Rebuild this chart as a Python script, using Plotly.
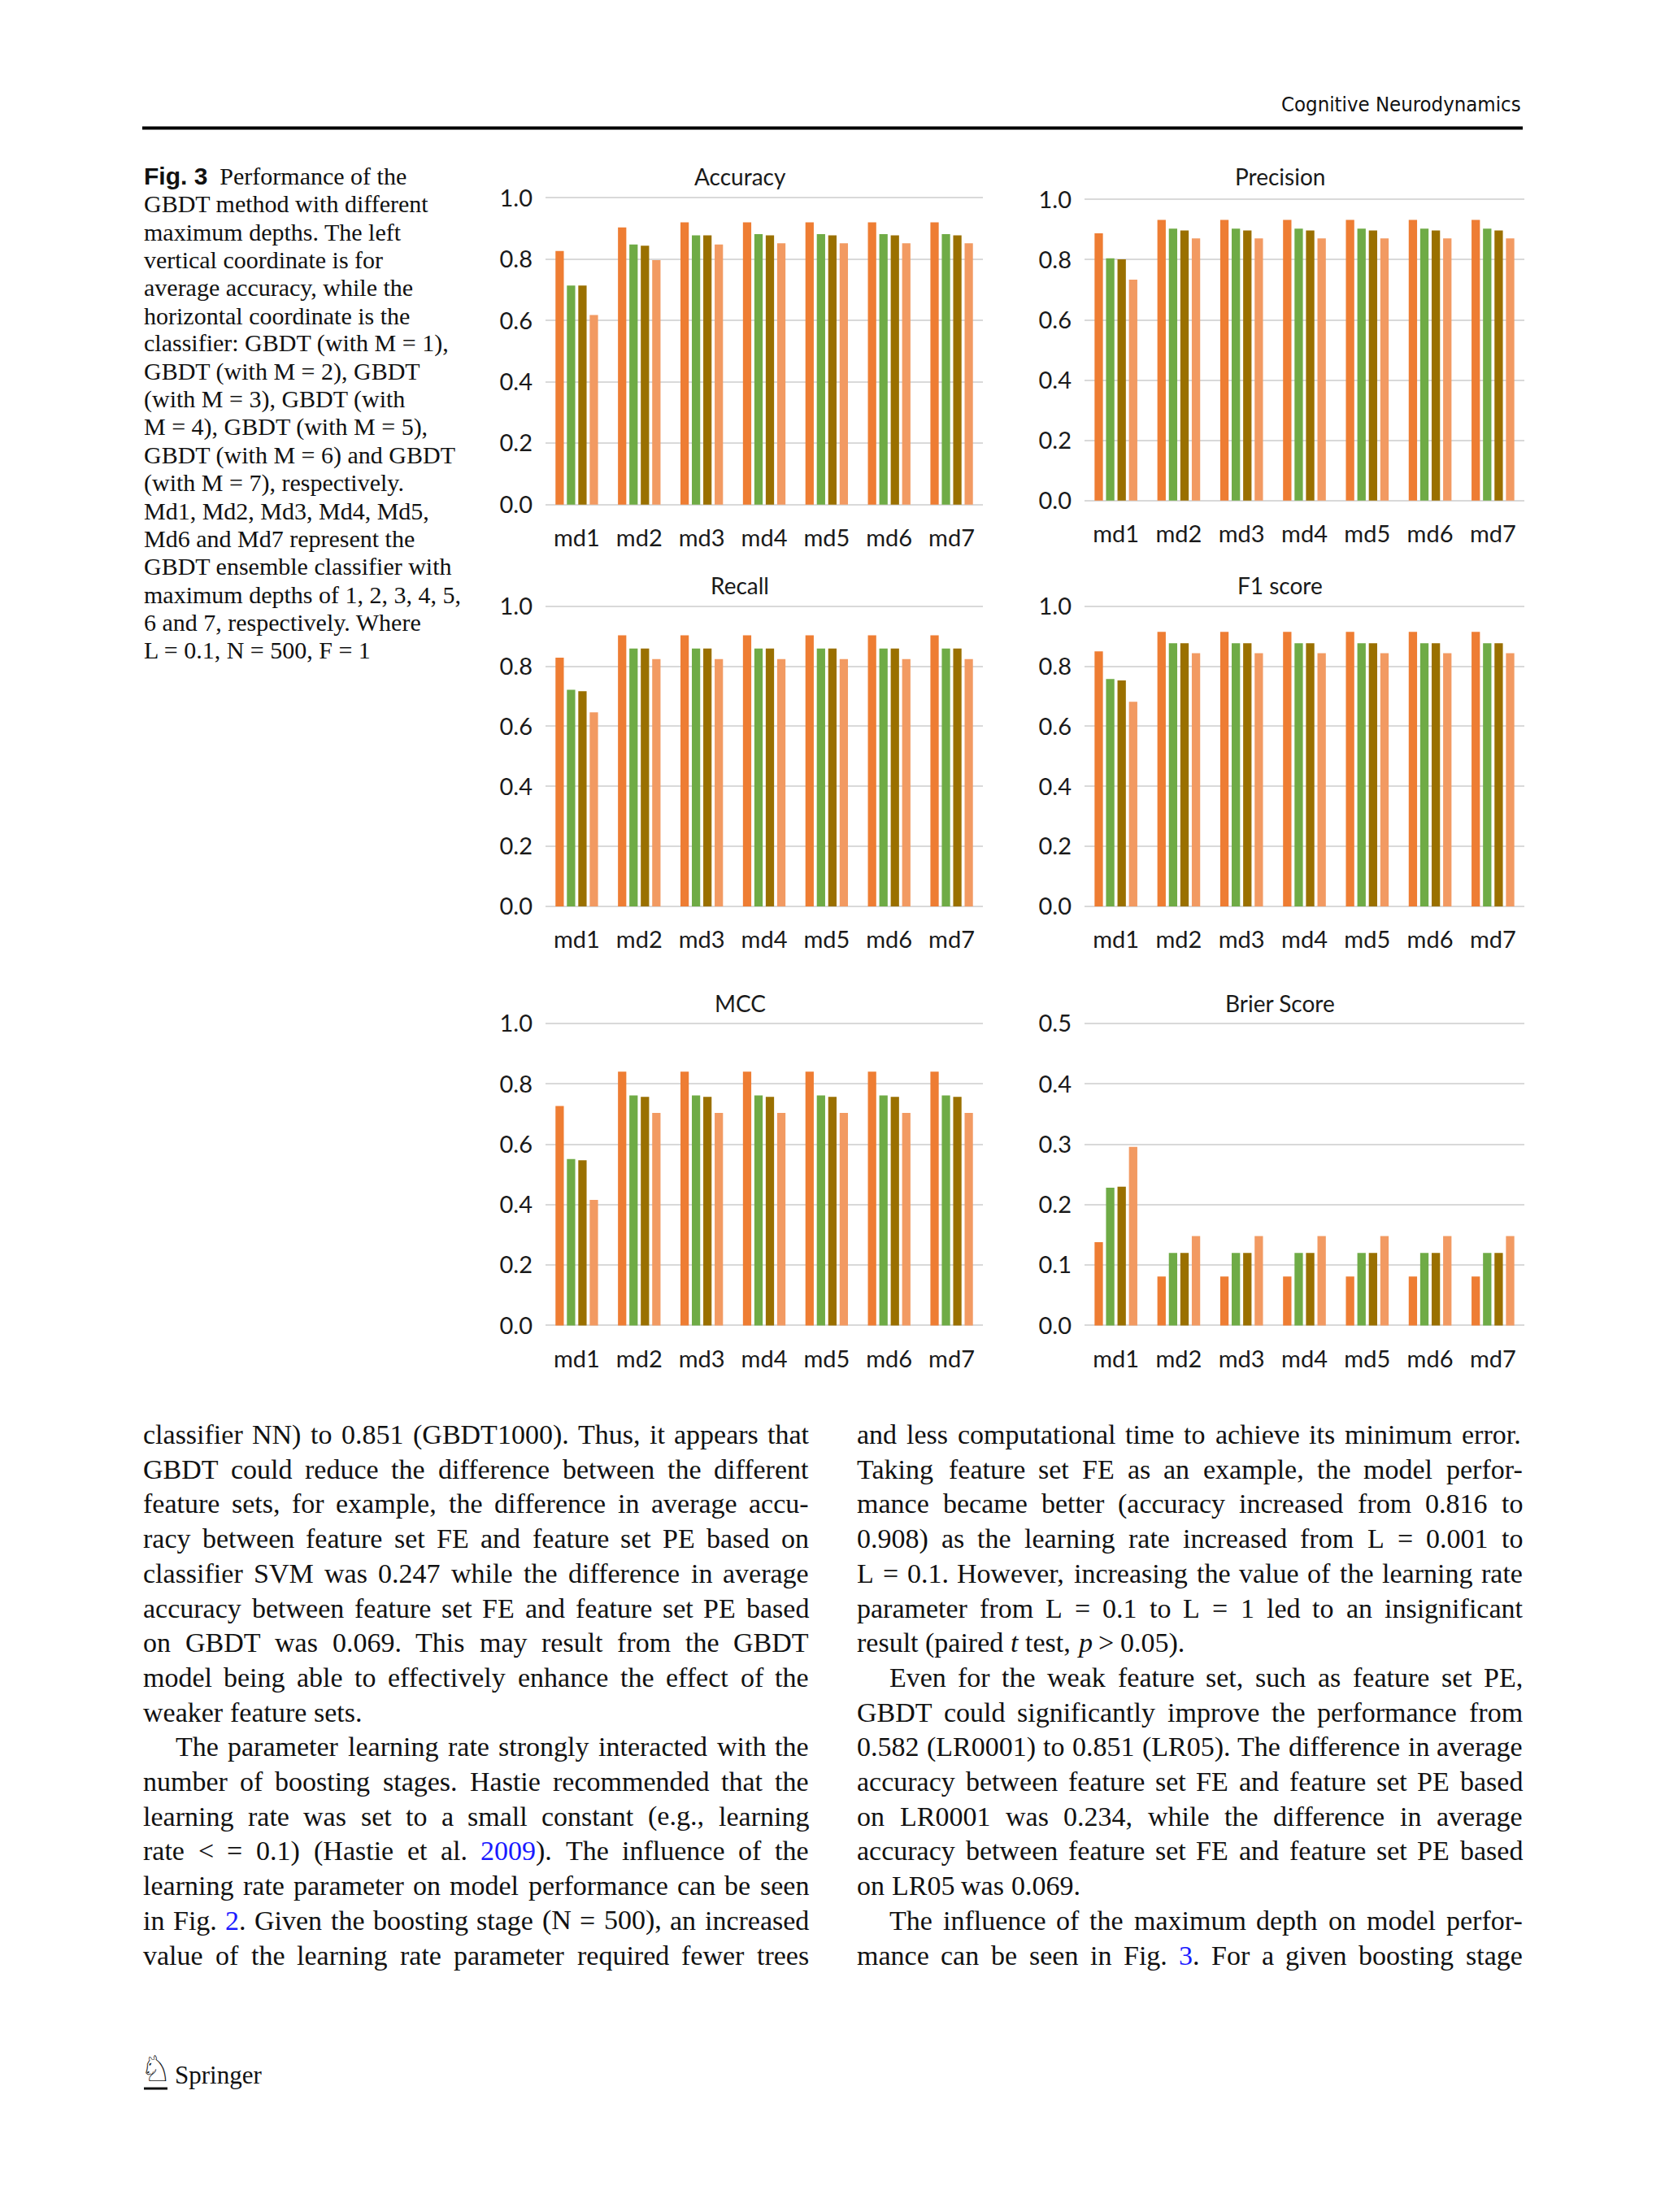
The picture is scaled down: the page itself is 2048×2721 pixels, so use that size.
import re
import plotly.graph_objects as go

# ---------------- data ----------------
categories = ["md1", "md2", "md3", "md4", "md5", "md6", "md7"]
series_names = ["Series 1", "Series 2", "Series 3", "Series 4"]
series_colors = ["#EE7D33", "#6FAB46", "#9A7000", "#F29A62"]

accuracy_s1 = [0.827, 0.904, 0.920, 0.920, 0.920, 0.920, 0.920]
accuracy_s2 = [0.714, 0.848, 0.878, 0.882, 0.882, 0.882, 0.882]
accuracy_s3 = [0.714, 0.844, 0.878, 0.878, 0.878, 0.878, 0.878]
accuracy_s4 = [0.618, 0.797, 0.848, 0.852, 0.852, 0.852, 0.852]

precision_s1 = [0.888, 0.932, 0.932, 0.932, 0.932, 0.932, 0.932]
precision_s2 = [0.805, 0.903, 0.903, 0.903, 0.903, 0.903, 0.903]
precision_s3 = [0.801, 0.897, 0.897, 0.897, 0.897, 0.897, 0.897]
precision_s4 = [0.734, 0.871, 0.871, 0.871, 0.871, 0.871, 0.871]

recall_s1 = [0.829, 0.903, 0.903, 0.903, 0.903, 0.903, 0.903]
recall_s2 = [0.722, 0.859, 0.859, 0.859, 0.859, 0.859, 0.859]
recall_s3 = [0.717, 0.859, 0.859, 0.859, 0.859, 0.859, 0.859]
recall_s4 = [0.647, 0.824, 0.824, 0.824, 0.824, 0.824, 0.824]

f1_s1 = [0.850, 0.915, 0.915, 0.915, 0.915, 0.915, 0.915]
f1_s2 = [0.758, 0.877, 0.877, 0.877, 0.877, 0.877, 0.877]
f1_s3 = [0.753, 0.877, 0.877, 0.877, 0.877, 0.877, 0.877]
f1_s4 = [0.682, 0.844, 0.844, 0.844, 0.844, 0.844, 0.844]

mcc_s1 = [0.727, 0.841, 0.841, 0.841, 0.841, 0.841, 0.841]
mcc_s2 = [0.551, 0.762, 0.762, 0.762, 0.762, 0.762, 0.762]
mcc_s3 = [0.547, 0.757, 0.757, 0.757, 0.757, 0.757, 0.757]
mcc_s4 = [0.416, 0.704, 0.704, 0.704, 0.704, 0.704, 0.704]

brier_s1 = [0.138, 0.081, 0.081, 0.081, 0.081, 0.081, 0.081]
brier_s2 = [0.228, 0.120, 0.120, 0.120, 0.120, 0.120, 0.120]
brier_s3 = [0.230, 0.120, 0.120, 0.120, 0.120, 0.120, 0.120]
brier_s4 = [0.296, 0.148, 0.148, 0.148, 0.148, 0.148, 0.148]

panel_titles = ["Accuracy", "Precision", "Recall", "F1 score", "MCC", "Brier Score"]
panel_series = [
    [accuracy_s1, accuracy_s2, accuracy_s3, accuracy_s4],
    [precision_s1, precision_s2, precision_s3, precision_s4],
    [recall_s1, recall_s2, recall_s3, recall_s4],
    [f1_s1, f1_s2, f1_s3, f1_s4],
    [mcc_s1, mcc_s2, mcc_s3, mcc_s4],
    [brier_s1, brier_s2, brier_s3, brier_s4],
]
panel_ymax = [1.0, 1.0, 1.0, 1.0, 1.0, 0.5]
panel_dtick = [0.2, 0.2, 0.2, 0.2, 0.2, 0.1]

header_text = "Cognitive Neurodynamics"
caption_lines = [
    "Performance of the",
    "GBDT method with different",
    "maximum depths. The left",
    "vertical coordinate is for",
    "average accuracy, while the",
    "horizontal coordinate is the",
    "classifier: GBDT (with M = 1),",
    "GBDT (with M = 2), GBDT",
    "(with M = 3), GBDT (with",
    "M = 4), GBDT (with M = 5),",
    "GBDT (with M = 6) and GBDT",
    "(with M = 7), respectively.",
    "Md1, Md2, Md3, Md4, Md5,",
    "Md6 and Md7 represent the",
    "GBDT ensemble classifier with",
    "maximum depths of 1, 2, 3, 4, 5,",
    "6 and 7, respectively. Where",
    "L = 0.1, N = 500, F = 1",
]
BLUE = "#1a1aff"
# (text, indent, justified)
left_col = [
    ("classifier NN) to 0.851 (GBDT1000). Thus, it appears that", False, True),
    ("GBDT could reduce the difference between the different", False, True),
    ("feature sets, for example, the difference in average accu-", False, True),
    ("racy between feature set FE and feature set PE based on", False, True),
    ("classifier SVM was 0.247 while the difference in average", False, True),
    ("accuracy between feature set FE and feature set PE based", False, True),
    ("on GBDT was 0.069. This may result from the GBDT", False, True),
    ("model being able to effectively enhance the effect of the", False, True),
    ("weaker feature sets.", False, False),
    ("The parameter learning rate strongly interacted with the", True, True),
    ("number of boosting stages. Hastie recommended that the", False, True),
    ("learning rate was set to a small constant (e.g., learning", False, True),
    ("rate &lt; = 0.1) (Hastie et al. <span style='color:%s'>2009</span>). The influence of the" % BLUE, False, True),
    ("learning rate parameter on model performance can be seen", False, True),
    ("in Fig. <span style='color:%s'>2</span>. Given the boosting stage (N = 500), an increased" % BLUE, False, True),
    ("value of the learning rate parameter required fewer trees", False, True),
]
right_col = [
    ("and less computational time to achieve its minimum error.", False, True),
    ("Taking feature set FE as an example, the model perfor-", False, True),
    ("mance became better (accuracy increased from 0.816 to", False, True),
    ("0.908) as the learning rate increased from L = 0.001 to", False, True),
    ("L = 0.1. However, increasing the value of the learning rate", False, True),
    ("parameter from L = 0.1 to L = 1 led to an insignificant", False, True),
    ("result (paired <i>t</i> test, <i>p</i> &gt; 0.05).", False, False),
    ("Even for the weak feature set, such as feature set PE,", True, True),
    ("GBDT could significantly improve the performance from", False, True),
    ("0.582 (LR0001) to 0.851 (LR05). The difference in average", False, True),
    ("accuracy between feature set FE and feature set PE based", False, True),
    ("on LR0001 was 0.234, while the difference in average", False, True),
    ("accuracy between feature set FE and feature set PE based", False, True),
    ("on LR05 was 0.069.", False, False),
    ("The influence of the maximum depth on model perfor-", True, True),
    ("mance can be seen in Fig. <span style='color:%s'>3</span>. For a given boosting stage" % BLUE, False, True),
]

# ---------------- page geometry (pixels in the 2048x2721 page) ----------------
PAGE_W, PAGE_H = 2048, 2721
BODY_MARGIN = 8                      # default browser body margin
W = PAGE_W - 2 * BODY_MARGIN
H = PAGE_H - 2 * BODY_MARGIN
Y_SCALE, Y_SHIFT = 1.0123, -16.0     # vertical calibration of the page
col_x = [(671, 1209), (1334, 1875)]
row_y = [[(619, 242), (614, 244)], [(1113, 744), (1113, 744)], [(1628, 1257), (1628, 1257)]]
title_y = [216, 718, 1232]
title_x = [910, 1574]
TICK_FONT = dict(family="Lato", size=29, color="#1a1a1a")


def px_x(x):
    return (x - BODY_MARGIN) / W


def cal_y(y):
    return Y_SCALE * y + Y_SHIFT


def px_y(y):
    return 1 - (cal_y(y) - BODY_MARGIN) / H


fig = go.Figure()
annotations = []
shapes = []
layout_axes = {}

for i in range(6):
    r, c = divmod(i, 2)
    n = i + 1
    xa = "x" if n == 1 else "x%d" % n
    ya = "y" if n == 1 else "y%d" % n
    ymax = panel_ymax[i]
    p0, p1 = row_y[r][c]
    pad = 0.006
    span = p0 - p1
    dom_top = p1 - pad * span
    dom_bot = p0 + pad * span
    for s in range(4):
        fig.add_trace(go.Bar(
            x=categories, y=panel_series[i][s], name=series_names[s],
            marker=dict(color=series_colors[s], line=dict(width=0)),
            xaxis=xa, yaxis=ya, showlegend=False,
        ))
    x0, x1 = col_x[c]
    layout_axes["xaxis" if n == 1 else "xaxis%d" % n] = dict(
        domain=[px_x(x0), px_x(x1)], anchor=ya, showgrid=False, zeroline=False,
        showline=False, ticks="", tickfont=TICK_FONT, ticklabelstandoff=19,
        fixedrange=True,
    )
    layout_axes["yaxis" if n == 1 else "yaxis%d" % n] = dict(
        domain=[px_y(dom_bot), px_y(dom_top)], anchor=xa,
        range=[-pad * ymax, ymax * (1 + pad)], dtick=panel_dtick[i], tick0=0,
        tickformat=".1f", showgrid=True, gridcolor="#D9D9D9", gridwidth=2,
        zeroline=True, zerolinecolor="#D9D9D9", zerolinewidth=2, showline=False,
        ticks="", tickfont=TICK_FONT, ticklabelstandoff=15, fixedrange=True,
    )
    annotations.append(dict(
        text=panel_titles[i], x=px_x(title_x[c]), y=px_y(title_y[r]), xref="paper", yref="paper",
        xanchor="center", yanchor="middle", showarrow=False,
        font=dict(family="Lato", size=28, color="#1a1a1a"),
    ))

# ---------------- header ----------------
annotations.append(dict(
    text=header_text, x=px_x(1873), y=px_y(127), xref="paper", yref="paper",
    xanchor="right", yanchor="middle", showarrow=False,
    font=dict(family="DejaVu Sans Condensed", size=25.5, color="#111111"),
))
shapes.append(dict(type="line", xref="paper", yref="paper",
                   x0=px_x(175), x1=px_x(1873), y0=px_y(156), y1=px_y(156),
                   line=dict(color="#000000", width=4)))

# ---------------- caption ----------------
CAP_FS = 30
for k, line in enumerate(caption_lines):
    txt = line
    if k == 0:
        txt = "<b><span style='font-family:Liberation Sans'>Fig. 3</span></b>  " + line
    annotations.append(dict(
        text=txt, x=px_x(176), y=px_y(215 + k * 34.3), xref="paper", yref="paper",
        xanchor="left", yanchor="middle", showarrow=False, borderpad=0,
        font=dict(family="Liberation Serif", size=CAP_FS, color="#111111"),
    ))

# ---------------- body text (justified per word) ----------------
TW = {' ': 250, '!': 333, '"': 408, '#': 500, '$': 500, '%': 833, '&': 778, "'": 333,
      '(': 333, ')': 333, '*': 500, '+': 564, ',': 250, '-': 333, '.': 250, '/': 278,
      ':': 278, ';': 278, '<': 564, '=': 564, '>': 564, '?': 444, '@': 921,
      'A': 722, 'B': 667, 'C': 667, 'D': 722, 'E': 611, 'F': 556, 'G': 722, 'H': 722,
      'I': 333, 'J': 389, 'K': 722, 'L': 611, 'M': 889, 'N': 722, 'O': 722, 'P': 556,
      'Q': 722, 'R': 667, 'S': 556, 'T': 611, 'U': 722, 'V': 722, 'W': 944, 'X': 722,
      'Y': 722, 'Z': 611, 'a': 444, 'b': 500, 'c': 444, 'd': 500, 'e': 444, 'f': 333,
      'g': 500, 'h': 500, 'i': 278, 'j': 278, 'k': 500, 'l': 278, 'm': 778, 'n': 500,
      'o': 500, 'p': 500, 'q': 500, 'r': 333, 's': 389, 't': 278, 'u': 500, 'v': 500,
      'w': 722, 'x': 500, 'y': 500, 'z': 444}
for d in "0123456789":
    TW[d] = 500


def plain(s):
    s = re.sub(r"<[^>]+>", "", s)
    return s.replace("&lt;", "<").replace("&gt;", ">").replace("&amp;", "&")


def width_px(s, fs):
    return sum(TW.get(ch, 500) for ch in plain(s)) / 1000.0 * fs


def split_words(s):
    words, cur, in_tag = [], "", False
    for ch in s:
        if ch == "<":
            in_tag = True
        elif ch == ">":
            in_tag = False
        if ch == " " and not in_tag:
            if cur:
                words.append(cur)
            cur = ""
        else:
            cur += ch
    if cur:
        words.append(cur)
    return words


BODY_FS = 34
INDENT = 40


def place_column(lines, x0, x1, y0, dy):
    for k, (line, indent, justify) in enumerate(lines):
        words = split_words(line)
        ws = [width_px(w, BODY_FS) for w in words]
        start = x0 + (INDENT if indent else 0)
        if justify and len(words) > 1:
            gap = (x1 - start - sum(ws)) / (len(words) - 1)
        else:
            gap = 0.25 * BODY_FS
        x = start
        for w, wpx in zip(words, ws):
            annotations.append(dict(
                text=w, x=px_x(x), y=px_y(y0 + k * dy), xref="paper", yref="paper",
                xanchor="left", yanchor="middle", showarrow=False, borderpad=0,
                font=dict(family="Liberation Serif", size=BODY_FS, color="#111111"),
            ))
            x += wpx + gap


place_column(left_col, 175, 994, 1762, 42.67)
place_column(right_col, 1053, 1872, 1762, 42.67)

# ---------------- footer ----------------
annotations.append(dict(
    text="\u2658", x=px_x(191), y=px_y(2541), xref="paper", yref="paper",
    xanchor="center", yanchor="middle", showarrow=False,
    font=dict(family="DejaVu Sans", size=44, color="#111111"),
))
shapes.append(dict(type="line", xref="paper", yref="paper",
                   x0=px_x(177), x1=px_x(206), y0=px_y(2566), y1=px_y(2566),
                   line=dict(color="#111111", width=3)))
annotations.append(dict(
    text="Springer", x=px_x(214), y=px_y(2549), xref="paper", yref="paper",
    xanchor="left", yanchor="middle", showarrow=False, borderpad=0,
    font=dict(family="Liberation Serif", size=31, color="#111111"),
))

fig.update_layout(
    width=W, height=H, margin=dict(l=0, r=0, t=0, b=0),
    paper_bgcolor="white", plot_bgcolor="white",
    barmode="group", bargap=0.27, bargroupgap=0.27,
    annotations=annotations, shapes=shapes, showlegend=False,
    **layout_axes,
)

fig.write_html("out.html")
